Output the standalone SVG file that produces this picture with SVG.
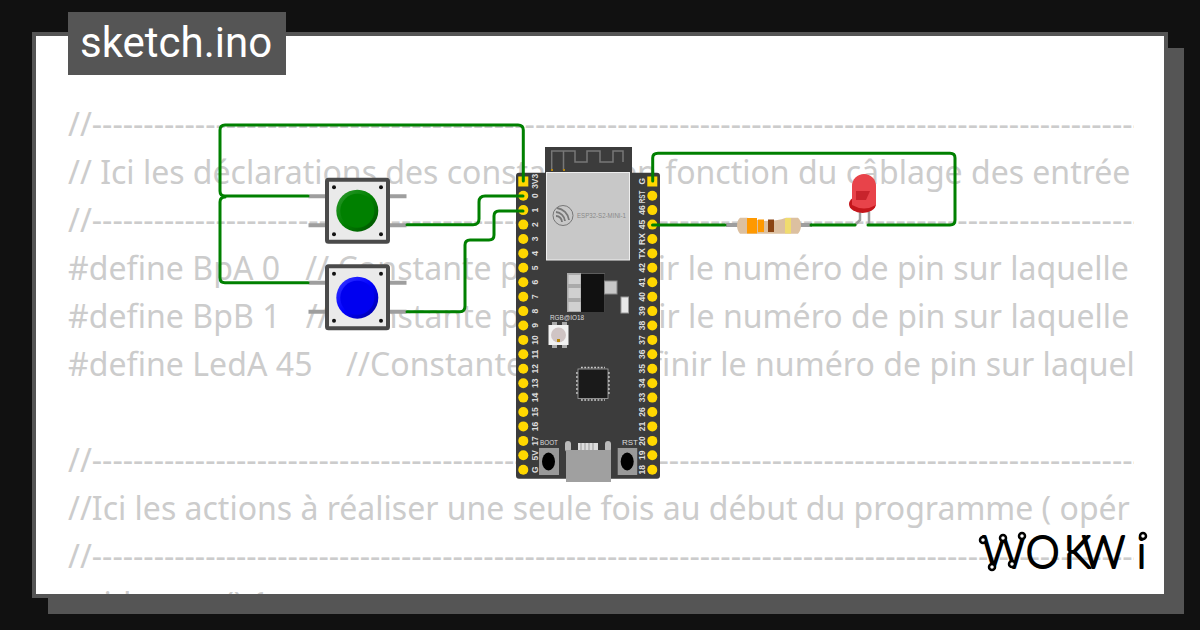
<svg xmlns="http://www.w3.org/2000/svg" width="1200" height="630" viewBox="0 0 1200 630">
<style>
.code{font-family:"Noto Sans",sans-serif;font-size:32px;fill:#ccc;white-space:pre}
.wide{letter-spacing:.06px}
.w{fill:none;stroke:#008000;stroke-width:3;stroke-linecap:round;stroke-linejoin:round}
.pl{font-family:"Liberation Sans",sans-serif;font-size:8.500px;font-weight:700;fill:#ddd;text-anchor:middle}
.sl{font-family:"Liberation Sans",sans-serif;font-size:8px;fill:#ddd}
.leg{fill:none;stroke:#9e9e9e;stroke-width:4}
.pin{fill:#ffd700}
.dot{fill:#111}
.ring{fill:#fff;stroke:#000;stroke-width:2.500}
</style>
<defs>
<clipPath id="panel"><rect x="36" y="36" width="1098" height="558"/></clipPath>
<circle id="p" r="5" class="pin"/>
<g id="button">
<path class="leg" d="M-49-14.500H-30M-49 14.500H-30M30-14.500H49M30 14.500H49"/>
<rect x="-30.500" y="-31" width="61" height="62" rx="1.500" fill="#eaeaea" stroke="#4a4a4a" stroke-width="4"/>
<circle class="dot" cx="-23.500" cy="-23.500" r="2"/><circle class="dot" cx="23.500" cy="-23.500" r="2"/>
<circle class="dot" cx="-23.500" cy="23.500" r="2"/><circle class="dot" cx="23.500" cy="23.500" r="2"/>
</g>
<linearGradient id="gg" x1="0" y1="0" x2="1" y2="1"><stop offset="0" stop-color="#2f9a2f"/><stop offset=".5" stop-color="#008000"/><stop offset="1" stop-color="#004d00"/></linearGradient>
<linearGradient id="bg" x1="0" y1="0" x2="1" y2="1"><stop offset="0" stop-color="#3a3aff"/><stop offset=".5" stop-color="#0000ff"/><stop offset="1" stop-color="#00009a"/></linearGradient>
</defs>
<rect width="1200" height="630" fill="#111"/>
<rect x="48" y="48" width="1136" height="566" fill="#555"/>
<rect x="34" y="34" width="1132" height="562" fill="#fff" stroke="#555" stroke-width="4"/>
<g clip-path="url(#panel)">
<text class="code" x="68" y="136">//-------------------------------------------------------------------------------------------------------</text>
<text class="code" x="68" y="184">// Ici les déclarations des constantes en fonction du câblage des entrée</text>
<text class="code" x="68" y="232">//-------------------------------------------------------------------------------------------------------</text>
<text class="code wide" x="68" y="280">#define BpA 0   // Constante pour définir le numéro de pin sur laquelle</text>
<text class="code wide" x="68" y="328">#define BpB 1   // Constante pour définir le numéro de pin sur laquelle</text>
<text class="code wide" x="68" y="376">#define LedA 45    //Constante pour définir le numéro de pin sur laquel</text>
<text class="code" x="68" y="472">//-------------------------------------------------------------------------------------------------------</text>
<text class="code" x="68" y="520">//Ici les actions à réaliser une seule fois au début du programme ( opér</text>
<text class="code" x="68" y="568">//-------------------------------------------------------------------------------------------------------</text>
<text class="code" x="68" y="616">void setup() {</text>
</g>
<g id="title">
<rect x="68" y="12" width="218" height="63" fill="#555"/>
<text x="80" y="57" font-family="Roboto,sans-serif" font-size="42" fill="#fff">sketch.ino</text>
</g>
<g id="esp32">
<rect x="545" y="147" width="87" height="40" fill="#3c3c3c"/>
<rect x="516" y="172.700" width="144" height="306" rx="3" fill="#3c3c3c"/>
<path d="M551.700 170V151H575V162H587V151H600V162H613V151H623V162M563.500 151V170" fill="none" stroke="#777" stroke-width="1.500"/>
<rect x="551" y="169" width="2" height="2" fill="#b8860b"/><rect x="563" y="169" width="2" height="2" fill="#b8860b"/>
<rect x="546.500" y="172.500" width="83" height="87.500" fill="#c8c8c8" stroke="#eee" stroke-width="1"/>
<circle cx="563" cy="215.500" r="10" fill="#c8c8c8" stroke="#777" stroke-width="1"/>
<path d="M557 208a14 14 0 0 1 12 12M556 212a10 10 0 0 1 9 9M556 216a6 6 0 0 1 6 6" fill="none" stroke="#777" stroke-width="1.800"/>
<text x="577" y="217.500" font-family="Liberation Sans,sans-serif" font-size="7.500" textLength="49" lengthAdjust="spacingAndGlyphs" fill="#888">ESP32-S2-MINI-1</text>
<rect x="518.300" y="176.500" width="10" height="10" class="pin"/><rect x="647.300" y="176.500" width="10" height="10" class="pin"/>
<g>
<use href="#p" x="523.300" y="195.700"/><use href="#p" x="523.300" y="210.100"/><use href="#p" x="523.300" y="224.600"/><use href="#p" x="523.300" y="239"/><use href="#p" x="523.300" y="253.400"/><use href="#p" x="523.300" y="267.800"/><use href="#p" x="523.300" y="282.200"/><use href="#p" x="523.300" y="296.700"/><use href="#p" x="523.300" y="311.100"/><use href="#p" x="523.300" y="325.500"/><use href="#p" x="523.300" y="339.900"/><use href="#p" x="523.300" y="354.300"/><use href="#p" x="523.300" y="368.800"/><use href="#p" x="523.300" y="383.200"/><use href="#p" x="523.300" y="397.600"/><use href="#p" x="523.300" y="412"/><use href="#p" x="523.300" y="426.400"/><use href="#p" x="523.300" y="440.900"/><use href="#p" x="523.300" y="455.300"/><use href="#p" x="523.300" y="469.700"/>
<use href="#p" x="652.300" y="195.700"/><use href="#p" x="652.300" y="210.100"/><use href="#p" x="652.300" y="224.600"/><use href="#p" x="652.300" y="239"/><use href="#p" x="652.300" y="253.400"/><use href="#p" x="652.300" y="267.800"/><use href="#p" x="652.300" y="282.200"/><use href="#p" x="652.300" y="296.700"/><use href="#p" x="652.300" y="311.100"/><use href="#p" x="652.300" y="325.500"/><use href="#p" x="652.300" y="339.900"/><use href="#p" x="652.300" y="354.300"/><use href="#p" x="652.300" y="368.800"/><use href="#p" x="652.300" y="383.200"/><use href="#p" x="652.300" y="397.600"/><use href="#p" x="652.300" y="412"/><use href="#p" x="652.300" y="426.400"/><use href="#p" x="652.300" y="440.900"/><use href="#p" x="652.300" y="455.300"/><use href="#p" x="652.300" y="469.700"/>
</g>
<g>
<text class="pl" transform="translate(538,181.300) rotate(-90)">3V3</text><text class="pl" transform="translate(538,195.700) rotate(-90)">0</text><text class="pl" transform="translate(538,210.100) rotate(-90)">1</text><text class="pl" transform="translate(538,224.600) rotate(-90)">2</text><text class="pl" transform="translate(538,239) rotate(-90)">3</text><text class="pl" transform="translate(538,253.400) rotate(-90)">4</text><text class="pl" transform="translate(538,267.800) rotate(-90)">5</text><text class="pl" transform="translate(538,282.200) rotate(-90)">6</text><text class="pl" transform="translate(538,296.700) rotate(-90)">7</text><text class="pl" transform="translate(538,311.100) rotate(-90)">8</text><text class="pl" transform="translate(538,325.500) rotate(-90)">9</text><text class="pl" transform="translate(538,339.900) rotate(-90)">10</text><text class="pl" transform="translate(538,354.300) rotate(-90)">11</text><text class="pl" transform="translate(538,368.800) rotate(-90)">12</text><text class="pl" transform="translate(538,383.200) rotate(-90)">13</text><text class="pl" transform="translate(538,397.600) rotate(-90)">14</text><text class="pl" transform="translate(538,412) rotate(-90)">15</text><text class="pl" transform="translate(538,426.400) rotate(-90)">16</text><text class="pl" transform="translate(538,440.900) rotate(-90)">17</text><text class="pl" transform="translate(538,455.300) rotate(-90)">5V</text><text class="pl" transform="translate(538,469.700) rotate(-90)">G</text>
<text class="pl" transform="translate(645,181.300) rotate(-90)">G</text><text class="pl" transform="translate(645,197) rotate(-90)" textLength="12.500" lengthAdjust="spacingAndGlyphs">RST</text><text class="pl" transform="translate(645,210.100) rotate(-90)">46</text><text class="pl" transform="translate(645,224.600) rotate(-90)">45</text><text class="pl" transform="translate(645,239) rotate(-90)">RX</text><text class="pl" transform="translate(645,253.400) rotate(-90)">TX</text><text class="pl" transform="translate(645,267.800) rotate(-90)">42</text><text class="pl" transform="translate(645,282.200) rotate(-90)">41</text><text class="pl" transform="translate(645,296.700) rotate(-90)">40</text><text class="pl" transform="translate(645,311.100) rotate(-90)">39</text><text class="pl" transform="translate(645,325.500) rotate(-90)">38</text><text class="pl" transform="translate(645,339.900) rotate(-90)">37</text><text class="pl" transform="translate(645,354.300) rotate(-90)">36</text><text class="pl" transform="translate(645,368.800) rotate(-90)">35</text><text class="pl" transform="translate(645,383.200) rotate(-90)">34</text><text class="pl" transform="translate(645,397.600) rotate(-90)">33</text><text class="pl" transform="translate(645,412) rotate(-90)">26</text><text class="pl" transform="translate(645,426.400) rotate(-90)">21</text><text class="pl" transform="translate(645,440.900) rotate(-90)">20</text><text class="pl" transform="translate(645,455.300) rotate(-90)">19</text><text class="pl" transform="translate(645,469.700) rotate(-90)">18</text>
</g>
<rect x="567" y="273" width="37.500" height="39" fill="#aaa"/>
<rect x="581" y="273.500" width="23.500" height="38.500" fill="#111"/>
<rect x="568.500" y="275" width="12" height="9" fill="#d0d0d0"/><rect x="568.500" y="288" width="12" height="10" fill="#d0d0d0"/><rect x="568.500" y="302" width="12" height="9" fill="#d0d0d0"/>
<rect x="604.500" y="281" width="12.500" height="13" fill="#c8c8c8" stroke="#888"/>
<rect x="621" y="297" width="7.500" height="16" fill="#e8e8e8" stroke="#999"/>
<text class="sl" x="550" y="319.500" textLength="34" lengthAdjust="spacingAndGlyphs">RGB@IO18</text>
<rect x="552" y="322" width="5" height="26" fill="#aaa"/><rect x="562" y="322" width="5" height="26" fill="#aaa"/>
<rect x="548.500" y="325" width="20" height="20" fill="#f2f2f2"/>
<circle cx="558.500" cy="335" r="7.500" fill="#cfc4c4"/><rect x="557" y="339" width="3" height="3" fill="#b8860b"/>
<rect x="578" y="369" width="30" height="29.500" fill="#1a1a1a" stroke="#aaa" stroke-width=".8"/>
<path d="M581 367.500H605M581 400H605M576 373H578M576 377H578M576 381H578M576 385H578M576 389H578M576 393H578M608 373H610M608 377H610M608 381H610M608 385H610M608 389H610M608 393H610" stroke="#ccc" stroke-width="1.300" stroke-dasharray="1.800 1.500"/>
<rect x="539" y="448" width="20" height="27" fill="#999"/><ellipse cx="548.500" cy="461.500" rx="6.500" ry="9" fill="#000"/>
<text class="sl" x="540" y="444.500" textLength="18" lengthAdjust="spacingAndGlyphs">BOOT</text>
<rect x="617.700" y="448" width="19.500" height="27" fill="#999"/><ellipse cx="627.200" cy="461.500" rx="6.500" ry="9" fill="#000"/>
<text class="sl" x="622" y="444.500">RST</text>
<path d="M578 443H598V450H578Z" fill="#ddd"/>
<path d="M581 443V450M585 443V450M589 443V450M593 443V450" stroke="#999"/>
<rect x="565" y="441" width="6" height="11" rx="3" fill="#bbb"/><rect x="605" y="441" width="6" height="11" rx="3" fill="#bbb"/>
<rect x="566" y="450" width="45" height="32" fill="#a0a0a0"/>
</g>
<g id="btn1">
<use href="#button" x="357.500" y="210.700"/>
<circle cx="357.300" cy="210.700" r="21" fill="url(#gg)"/><circle cx="357.300" cy="210.700" r="17" fill="#008000"/>
</g>
<g id="btn2">
<use href="#button" x="357.500" y="297.200"/>
<circle cx="357.300" cy="297.700" r="21" fill="url(#bg)"/><circle cx="357.300" cy="297.700" r="17" fill="#0000f0"/>
</g>
<g id="r1">
<path class="leg" d="M726 225H812" stroke-width="3"/>
<path d="M747 217.700H740C736 221 736 230 740 233.700H798C802 230 802 221 798 217.700H786Q778 221 762 221Z" fill="#dcc0a0"/>
<rect x="747" y="218" width="10" height="15.500" fill="#f90"/><rect x="758" y="219.500" width="6" height="12.500" fill="#f90"/><rect x="768" y="219.500" width="6" height="12.500" fill="#8b4513"/><rect x="785" y="218" width="6" height="15.500" fill="#f0dc6e"/>
</g>
<g id="led1">
<path d="M860 210V220L855 225M869 210V225" fill="none" stroke="#9e9e9e" stroke-width="2.500"/>
<ellipse cx="862.500" cy="204" rx="13.500" ry="9" fill="#c4161c"/>
<path d="M852 205V186A12 12 0 0 1 876 186V205Q864 212 852 205Z" fill="#e8434a"/>
<path d="M856 191H870L866 200H856Z" fill="#c8242c"/>
</g>
<g id="connectors">
<path class="w" d="M523.300 181V130Q523.300 125 518 125H225Q220 125 220 130V191Q220 196 225 196H308"/>
<path class="w" d="M308 282.700H225Q220 282.700 220 277.700V202Q220 197 225 197"/>
<path class="w" d="M407 224.700H473Q479 224.700 479 219V202Q479 196 485 196H523"/>
<path class="w" d="M407 311.700H460Q465 311.700 465 306V245Q465 240 470 240H489Q494 240 494 235V216Q494 211 499 211H523"/>
<path class="w" d="M652.700 181V158Q652.700 153.300 658 153.300H950Q955 153.300 955 158V220Q955 225 950 225H868"/>
<path class="w" d="M652.500 225H725"/>
<path class="w" d="M811 225H855"/>
</g>
<g id="logo">
<text transform="translate(982,568) scale(.95,1)" y="0" x="0 46 86 105 163" font-family="Lato,sans-serif" font-size="45" font-weight="300" stroke="#000" stroke-width="2" stroke-linejoin="round" fill="#000">WOKWi</text>
<circle class="ring" cx="983" cy="540" r="3"/><circle class="ring" cx="1003" cy="538" r="3"/><circle class="ring" cx="1022" cy="536" r="3"/><circle class="ring" cx="992" cy="567" r="3"/><circle class="ring" cx="1012" cy="564" r="3"/><circle class="ring" cx="1143" cy="536" r="3"/><circle fill="#fff" cx="1067" cy="552" r="1.500"/>
</g>
</svg>
